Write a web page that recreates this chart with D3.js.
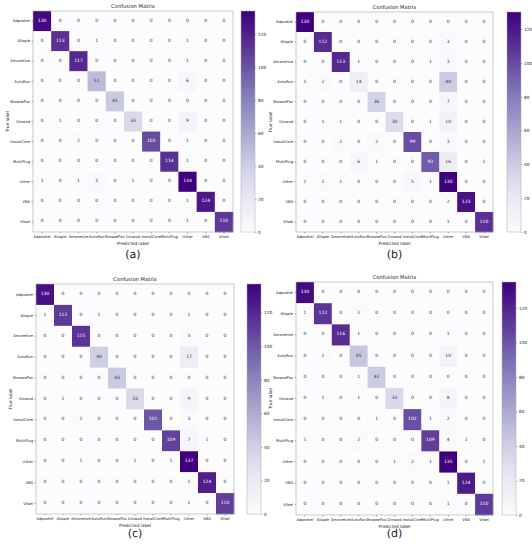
<!DOCTYPE html>
<html><head><meta charset="utf-8">
<script src="https://cdn.jsdelivr.net/npm/d3@7"></script>
<style>body{margin:0;background:#fff}text{font-family:"DejaVu Sans",sans-serif;text-rendering:geometricPrecision}</style>
</head><body>
<svg width="532" height="550"></svg>
<script>
const labels = ["Adposhel","Allaple","Amonetize","AutoRun","BrowseFox","Dinwod","InstallCore","MultiPlug","Other","VBA","Vilsel"]
const cbTicks = [0,20,40,60,80,100,120]

const matA = [
  [130,0,0,0,0,0,0,0,0,0,0],
  [0,113,0,1,0,0,0,0,1,0,0],
  [0,0,117,0,0,0,0,0,1,0,0],
  [0,0,0,51,0,0,0,0,6,0,0],
  [0,0,0,0,43,0,0,0,0,0,0],
  [0,1,0,0,0,33,0,0,9,0,0],
  [0,0,2,0,0,0,103,0,1,0,0],
  [0,0,0,0,0,0,0,114,1,0,0],
  [1,0,1,3,0,1,0,0,134,0,0],
  [0,0,0,0,0,0,0,0,1,124,0],
  [0,0,0,0,0,0,0,0,1,0,110]
]
const matB = [
  [130,0,0,0,0,0,0,0,0,0,0],
  [0,112,0,0,0,0,0,0,3,0,0],
  [0,0,113,1,0,0,0,1,3,0,0],
  [1,2,0,14,0,0,0,0,40,0,0],
  [0,0,0,0,36,0,0,0,7,0,0],
  [0,1,1,0,0,30,0,1,10,0,0],
  [0,0,2,0,2,0,99,0,3,0,0],
  [0,0,0,6,1,0,0,93,16,0,1],
  [1,2,1,0,0,0,5,1,130,0,0],
  [0,0,0,0,0,0,0,0,2,123,0],
  [0,0,0,0,0,0,0,0,1,0,110]
]
const matC = [
  [130,0,0,0,0,0,0,0,0,0,0],
  [1,112,0,1,0,0,0,0,1,0,0],
  [0,0,115,0,0,0,0,0,3,0,0],
  [0,0,0,40,0,0,0,0,17,0,0],
  [0,0,0,0,43,0,0,0,0,0,0],
  [0,1,0,0,0,33,0,0,9,0,0],
  [0,0,2,0,0,0,101,0,3,0,0],
  [0,0,0,0,0,0,0,109,7,1,0],
  [0,0,1,0,0,1,0,1,137,0,0],
  [0,0,0,0,0,0,0,0,1,124,0],
  [0,0,0,0,0,0,0,0,1,0,110]
]
const matD = [
  [130,0,0,0,0,0,0,0,0,0,0],
  [1,112,0,2,0,0,0,0,0,0,0],
  [0,0,116,1,0,0,0,0,1,0,0],
  [0,2,0,45,0,0,0,0,10,0,0],
  [0,0,0,1,42,0,0,0,0,0,0],
  [0,1,0,1,0,33,0,0,8,0,0],
  [0,0,0,0,1,0,102,1,2,0,0],
  [1,0,0,2,0,0,0,109,4,1,0],
  [0,0,0,0,0,1,2,1,135,0,1],
  [0,0,0,0,0,0,0,0,1,124,0],
  [0,0,0,0,0,0,0,0,1,0,110]
]

const panels = [
  {m:matA, tag:"(a)", x0:33, x1:233, y0:11, y1:232, cb:241, tagY:258},
  {m:matB, tag:"(b)", x0:296, x1:493, y0:12, y1:232, cb:507, tagY:258},
  {m:matC, tag:"(c)", x0:36, x1:234, y0:284, y1:514, cb:247, tagY:537},
  {m:matD, tag:"(d)", x0:296, x1:493, y0:282, y1:515, cb:502, tagY:537}
]

const svg = d3.select("svg")

panels.forEach(p => {
  const vmax = d3.max(p.m.flat())
  const color = d3.scaleSequential(d3.interpolatePurples).domain([0, vmax])
  const x = d3.scaleBand().domain(labels).range([p.x0, p.x1])
  const y = d3.scaleBand().domain(labels).range([p.y0, p.y1])
  const g = svg.append("g")
  const cells = p.m.flatMap((row,i) => row.map((v,j) => ({r:labels[i], c:labels[j], v})))
  g.selectAll("rect.cell").data(cells).enter().append("rect")
    .attr("x", d => x(d.c)).attr("y", d => y(d.r))
    .attr("width", x.bandwidth()+0.3).attr("height", y.bandwidth()+0.3)
    .attr("fill", d => color(d.v))
  g.selectAll("text.val").data(cells).enter().append("text")
    .attr("x", d => x(d.c)+x.bandwidth()/2).attr("y", d => y(d.r)+y.bandwidth()/2)
    .attr("text-anchor","middle").attr("dominant-baseline","central")
    .attr("font-size", 4.5).attr("fill", d => d.v > vmax/2 ? "#fff" : "#333")
    .text(d => d.v)
  g.append("rect").attr("x",p.x0).attr("y",p.y0).attr("width",p.x1-p.x0).attr("height",p.y1-p.y0)
    .attr("fill","none").attr("stroke","#aaa").attr("stroke-width",0.6)

  const ax = g.append("g").attr("transform",`translate(0,${p.y1})`)
    .call(d3.axisBottom(x).tickSize(1.5).tickPadding(1.5))
  const ay = g.append("g").attr("transform",`translate(${p.x0},0)`)
    .call(d3.axisLeft(y).tickSize(1.5).tickPadding(1.5))
  ;[ax,ay].forEach(a => {
    a.select(".domain").remove()
    a.selectAll("text").attr("font-size",3.7).attr("fill","#222")
    a.selectAll("line").attr("stroke","#444").attr("stroke-width",0.4)
  })

  g.append("text").attr("x",(p.x0+p.x1)/2).attr("y",p.y0-3).attr("text-anchor","middle")
    .attr("font-size",5.2).attr("fill","#222").text("Confusion Matrix")
  g.append("text").attr("x",(p.x0+p.x1)/2).attr("y",p.y1+13).attr("text-anchor","middle")
    .attr("font-size",4.3).attr("fill","#222").text("Predicted label")
  g.append("text").attr("transform",`translate(${p.x0-24},${(p.y0+p.y1)/2}) rotate(-90)`)
    .attr("text-anchor","middle").attr("font-size",4.3).attr("fill","#222").text("True label")
  g.append("text").attr("x",(p.x0+p.x1)/2).attr("y",p.tagY).attr("text-anchor","middle")
    .attr("font-size",11).attr("fill","#222").text(p.tag)

  // colorbar
  const cy = d3.scaleLinear().domain([0, vmax]).range([p.y1, p.y0])
  const id = "grad" + p.tag.replace(/\W/g,"")
  const grad = svg.append("defs").append("linearGradient").attr("id",id)
    .attr("x1",0).attr("y1",1).attr("x2",0).attr("y2",0)
  d3.range(0,1.01,0.1).forEach(t => grad.append("stop").attr("offset",t).attr("stop-color",color(t*vmax)))
  g.append("rect").attr("x",p.cb).attr("y",p.y0).attr("width",14).attr("height",p.y1-p.y0)
    .attr("fill",`url(#${id})`).attr("stroke","#aaa").attr("stroke-width",0.5)
  const ac = g.append("g").attr("transform",`translate(${p.cb+14},0)`)
    .call(d3.axisRight(cy).tickValues(cbTicks).tickSize(1.5).tickPadding(1.5))
  ac.select(".domain").remove()
  ac.selectAll("text").attr("font-size",4.3).attr("fill","#222")
  ac.selectAll("line").attr("stroke","#444").attr("stroke-width",0.4)
})
</script>
</body></html>
